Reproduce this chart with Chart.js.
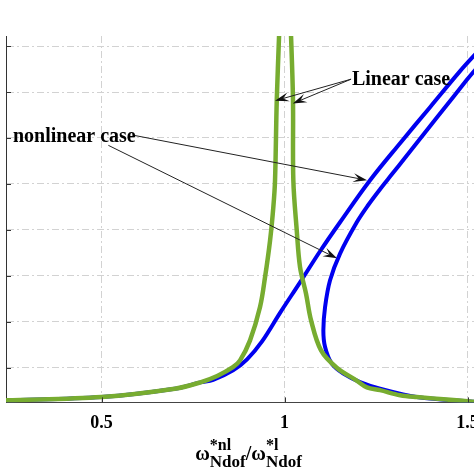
<!DOCTYPE html>
<html><head><meta charset="utf-8">
<script src="https://cdn.jsdelivr.net/npm/chart.js@4.4.0/dist/chart.umd.min.js"></script>
<style>
html,body{margin:0;padding:0;overflow:hidden;background:#fff;width:474px;height:474px}
#wrap{position:absolute;left:0;top:0;width:491px;height:474px}
</style>
</head><body><div id="wrap"><canvas id="c"></canvas></div>
<script>
// ---- data ----
const xTickValues = [0.5, 1, 1.5];
const xTickLabels = ['0.5', '1', '1.5'];
const yTickValues = [1, 2, 3, 4, 5, 6, 7, 8];

// linear case (green)
const linearX = [0.24, 0.5, 0.70, 0.77, 0.816, 0.859, 0.8784, 0.9057, 0.933, 0.9467, 0.9604, 0.9694, 0.974, 0.9787, 0.985, 1.0,
                 1.0177, 1.023, 1.024, 1.0333, 1.0423, 1.0587, 1.0724, 1.0997, 1.1426, 1.197, 1.225, 1.261, 1.316, 1.361, 1.507, 1.56];
const linearY = [0.29, 0.36, 0.54, 0.68, 0.82, 1.01, 1.159, 1.595, 2.32, 2.97, 3.77, 4.50, 5.08, 6.82, 8.22, 12,
                 8.22, 6.83, 5.08, 3.99, 3.19, 2.61, 2.03, 1.377, 1.0, 0.72, 0.57, 0.51, 0.40, 0.36, 0.265, 0.25];

// nonlinear case (blue), in path order (upper branch up, back down the middle branch, then lower branch)
const nonlinearX = [0.24, 0.5, 0.70, 0.77, 0.805, 0.8593, 0.8975, 0.9385, 0.9877, 1.0423, 1.097, 1.1516, 1.2336,
                    1.3156, 1.3975, 1.4795, 1.5642, 1.62, 1.5642, 1.4986, 1.4167, 1.3292, 1.2937, 1.2609, 1.2281, 1.1973,
                    1.1516, 1.1243, 1.1107, 1.106, 1.1107, 1.129, 1.1607, 1.2063, 1.2609, 1.361, 1.507, 1.56];
const nonlinearY = [0.29, 0.36, 0.54, 0.68, 0.734, 0.941, 1.181, 1.573, 2.194, 2.858, 3.534, 4.166, 5.08,
                    5.887, 6.671, 7.455, 8.22, 8.9, 7.935, 7.272, 6.449, 5.571, 5.214, 4.885, 4.536, 4.166,
                    3.484, 2.902, 2.32, 1.81, 1.449, 1.087, 0.869, 0.686, 0.542, 0.36, 0.265, 0.25];

// annotations (data coordinates)
const labelTexts = ['nonlinear case', 'Linear case'];
const labelX = [0.258, 1.184];
const labelY = [6.02, 7.26];
const arrowStartX = [0.587, 0.5186, 1.1817, 1.1817];
const arrowStartY = [6.06, 5.84, 7.28, 7.28];
const arrowTipX = [1.2255, 1.1434, 0.974, 1.0224];
const arrowTipY = [5.08, 3.38, 6.81, 6.75];

// axis title pieces: base, superscript, subscript
const xTitleBase = ['ω', '/', 'ω'];
const xTitleSup = ['*nl', '', '*l'];
const xTitleSub = ['Ndof', '', 'Ndof'];

const GREEN = '#77ac30';
const BLUE = '#0000f0';
const SERIF = '"Liberation Serif","Times New Roman",serif';

const toPts = (xs, ys) => xs.map((v, i) => ({x: v, y: ys[i]}));

const inwardTicks = {
  id: 'inwardTicks',
  afterDraw(chart) {
    const {ctx, chartArea: a, scales: {x, y}} = chart;
    ctx.save();
    ctx.strokeStyle = '#333';
    ctx.lineWidth = 1;
    ctx.beginPath();
    xTickValues.forEach(v => { const p = Math.round(x.getPixelForValue(v)) + 0.5; ctx.moveTo(p, a.bottom); ctx.lineTo(p, a.bottom - 5); });
    yTickValues.forEach(v => { const p = Math.round(y.getPixelForValue(v)) + 0.5; ctx.moveTo(a.left, p); ctx.lineTo(a.left + 5, p); });
    ctx.stroke();
    ctx.restore();
  }
};

const annotations = {
  id: 'annotations',
  afterDatasetsDraw(chart) {
    const {ctx, scales: {x, y}} = chart;
    ctx.save();
    ctx.strokeStyle = '#222';
    ctx.fillStyle = '#111';
    ctx.lineWidth = 1;
    for (let i = 0; i < arrowStartX.length; i++) {
      const sx = x.getPixelForValue(arrowStartX[i]), sy = y.getPixelForValue(arrowStartY[i]);
      const tx = x.getPixelForValue(arrowTipX[i]), ty = y.getPixelForValue(arrowTipY[i]);
      const dx = tx - sx, dy = ty - sy, len = Math.hypot(dx, dy);
      const ux = dx / len, uy = dy / len, nx = -uy, ny = ux;
      const L = 14, W = 9, N = 0.6;
      ctx.beginPath();
      ctx.moveTo(sx, sy);
      ctx.lineTo(tx - ux * L * N, ty - uy * L * N);
      ctx.stroke();
      ctx.beginPath();
      ctx.moveTo(tx, ty);
      ctx.lineTo(tx - ux * L + nx * W / 2, ty - uy * L + ny * W / 2);
      ctx.lineTo(tx - ux * L * N, ty - uy * L * N);
      ctx.lineTo(tx - ux * L - nx * W / 2, ty - uy * L - ny * W / 2);
      ctx.closePath();
      ctx.fill();
    }
    ctx.fillStyle = '#000';
    ctx.font = 'bold 20px ' + SERIF;
    ctx.textAlign = 'left';
    ctx.textBaseline = 'middle';
    labelTexts.forEach((t, i) => ctx.fillText(t, x.getPixelForValue(labelX[i]), y.getPixelForValue(labelY[i])));
    ctx.restore();
  }
};

const axisTitle = {
  id: 'axisTitle',
  afterDraw(chart) {
    const {ctx, chartArea: a} = chart;
    const baseFont = 'bold 20px ' + SERIF, supFont = 'bold 16px ' + SERIF, subFont = 'bold 17px ' + SERIF;
    ctx.save();
    ctx.fillStyle = '#000';
    ctx.textBaseline = 'alphabetic';
    ctx.textAlign = 'left';
    const widths = xTitleBase.map((b, i) => {
      ctx.font = baseFont; const wb = ctx.measureText(b).width;
      ctx.font = supFont; const ws = xTitleSup[i] ? ctx.measureText(xTitleSup[i]).width : 0;
      ctx.font = subFont; const wu = xTitleSub[i] ? ctx.measureText(xTitleSub[i]).width : 0;
      return [wb, Math.max(ws, wu)];
    });
    const total = widths.reduce((s, w) => s + w[0] + w[1], 0);
    let cx = (a.left + a.right) / 2 - total / 2;
    const yb = a.bottom + 58, ys = a.bottom + 48, yu = a.bottom + 65;
    xTitleBase.forEach((b, i) => {
      ctx.font = baseFont; ctx.fillText(b, cx, yb);
      cx += widths[i][0];
      if (xTitleSup[i]) { ctx.font = supFont; ctx.fillText(xTitleSup[i], cx, ys); }
      if (xTitleSub[i]) { ctx.font = subFont; ctx.fillText(xTitleSub[i], cx, yu); }
      cx += widths[i][1];
    });
    ctx.restore();
  }
};

const gridCommon = {color: '#d2d2d2', lineWidth: 1, drawTicks: false};

new Chart(document.getElementById('c'), {
  type: 'scatter',
  data: {
    datasets: [
      {label: 'Linear case', data: toPts(linearX, linearY), showLine: true, borderColor: GREEN, borderWidth: 4.5,
       pointRadius: 0, tension: 0.35, fill: false},
      {label: 'nonlinear case', data: toPts(nonlinearX, nonlinearY), showLine: true, borderColor: BLUE, borderWidth: 4,
       pointRadius: 0, tension: 0.35, fill: false}
    ]
  },
  options: {
    responsive: true,
    maintainAspectRatio: false,
    animation: false,
    events: [],
    elements: {line: {capBezierPoints: false, borderJoinStyle: 'round', borderCapStyle: 'round'}},
    layout: {padding: {left: 6, top: 36, right: 0, bottom: 30}},
    plugins: {legend: {display: false}, tooltip: {enabled: false}, title: {display: false}},
    scales: {
      x: {
        type: 'linear', min: 0.239, max: 1.564,
        afterBuildTicks: s => { s.ticks = xTickValues.map(v => ({value: v})); },
        ticks: {callback: (v) => xTickLabels[xTickValues.indexOf(v)] ?? '', font: {family: SERIF, size: 18, weight: 'bold'},
                color: '#000', padding: 10, maxRotation: 0, autoSkip: false},
        grid: gridCommon,
        border: {display: true, color: '#444', width: 1, dash: [7, 3, 2, 3]}
      },
      y: {
        type: 'linear', min: 0.244, max: 8.22,
        afterBuildTicks: s => { s.ticks = yTickValues.map(v => ({value: v})); },
        ticks: {display: false},
        grid: gridCommon,
        border: {display: true, color: '#333', width: 1, dash: [7, 3, 2, 3]}
      }
    }
  },
  plugins: [inwardTicks, annotations, axisTitle]
});
</script>
</body></html>
